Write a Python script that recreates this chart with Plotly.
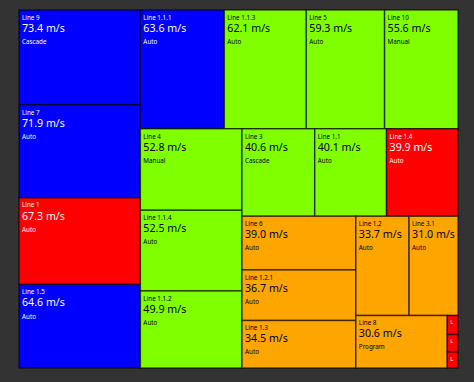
import plotly.graph_objects as go

names = ["Line 9", "Line 7", "Line 1", "Line 1.5", "Line 1.1.1", "Line 1.1.3", "Line 5",
         "Line 10", "Line 4", "Line 1.1.4", "Line 1.1.2", "Line 3", "Line 1.1", "Line 1.4",
         "Line 6", "Line 1.2.1", "Line 1.3", "Line 1.2", "Line 3.1", "Line 8",
         "Line 2", "Line 2.1", "Line 2.2"]
speeds = [73.4, 71.9, 67.3, 64.6, 63.6, 62.1, 59.3, 55.6, 52.8, 52.5, 49.9, 40.6, 40.1, 39.9,
          39.0, 36.7, 34.5, 33.7, 31.0, 30.6, 1.3, 1.2, 1.1]
modes = ["Cascade", "Auto", "Auto", "Auto", "Auto", "Auto", "Auto", "Manual", "Manual", "Auto",
         "Auto", "Cascade", "Auto", "Auto", "Auto", "Auto", "Auto", "Auto", "Auto", "Program",
         "", "", ""]
states = ["high", "high", "alarm", "high", "high", "normal", "normal", "normal", "normal", "normal",
          "normal", "normal", "normal", "alarm", "low", "low", "low", "low", "low", "low",
          "alarm", "alarm", "alarm"]

state_colors = {"high": "#0000FF", "normal": "#80FF00", "alarm": "#FF0000", "low": "#FFA500"}
state_text = {"high": "white", "normal": "black", "alarm": "white", "low": "black"}

fills = [state_colors[s] for s in states]
txtcol = [state_text[s] for s in states]
texts = []
for n, v, m in zip(names, speeds, modes):
    if v < 5:
        texts.append("<span style='font-size:6px'>L</span>")
    else:
        texts.append(f"<span style='font-size:6.5px'>{n}</span><br>"
                     f"<span style='font-size:11px'>{v:.1f} m/s</span><br>"
                     f"<span style='font-size:6.5px'>{m}</span>")

fig = go.Figure(go.Treemap(
    labels=names,
    parents=[""] * len(names),
    values=speeds,
    text=texts,
    textinfo="text",
    texttemplate="%{text}",
    textposition="top left",
    textfont=dict(family="Noto Sans", size=9.6, color=txtcol),
    marker=dict(colors=fills, line=dict(color="rgba(0,0,0,0.6)", width=1.5), pad=dict(t=0, l=0, r=0, b=0)),
    tiling=dict(packing="squarify", squarifyratio=1.618, pad=0),
    sort=True,
    pathbar=dict(visible=False),
    hoverinfo="skip",
))

fig.update_layout(
    width=474, height=382,
    margin=dict(l=19, r=16, t=10, b=14),
    paper_bgcolor="#333333",
    plot_bgcolor="#333333",
    uniformtext=dict(minsize=5, mode="show"),
)

fig.write_html("out.html")
